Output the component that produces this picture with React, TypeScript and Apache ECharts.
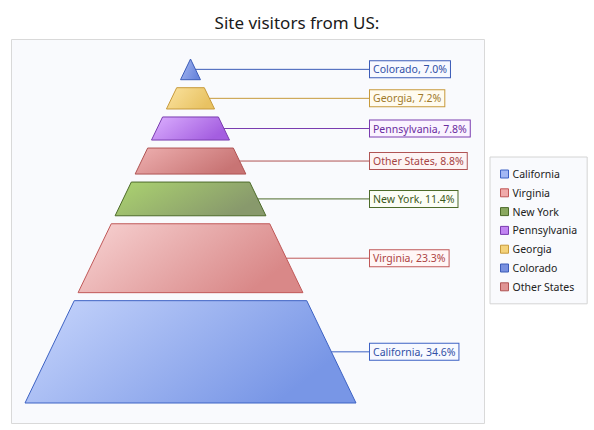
import { useEffect, useRef } from 'react';
import * as echarts from 'echarts';

// 数据
const states = ['California', 'Virginia', 'New York', 'Pennsylvania', 'Georgia', 'Colorado', 'Other States'];
const shares = [34.6, 23.3, 11.4, 7.8, 7.2, 7.0, 8.8];

// 每个州的配色：渐变浅色、渐变深色、边框、文字、标签背景、图例填充
const palette: Record<string, { light: string; dark: string; border: string; text: string; bg: string; icon: string }> = {
  'California': { light: '#c8d6fc', dark: '#7896e6', border: '#3d62c4', text: '#3150a6', bg: '#f7f9ff', icon: '#a3b8f4' },
  'Virginia': { light: '#f8d4d4', dark: '#d98888', border: '#c05858', text: '#ad4444', bg: '#fff6f6', icon: '#f0aaaa' },
  'New York': { light: '#acd470', dark: '#88996c', border: '#4d6b2a', text: '#3b5820', bg: '#fbfdf6', icon: '#8aa860' },
  'Pennsylvania': { light: '#dcb0ff', dark: '#a45ee0', border: '#7a3cb0', text: '#6a2ca0', bg: '#faf3ff', icon: '#c184f2' },
  'Georgia': { light: '#fbe3a0', dark: '#e8c262', border: '#c79a3c', text: '#a07a2a', bg: '#fffbef', icon: '#f4d27a' },
  'Colorado': { light: '#a8baf2', dark: '#6a86dc', border: '#3c5cb8', text: '#3150a6', bg: '#f7f9ff', icon: '#7890e0' },
  'Other States': { light: '#eeb0b0', dark: '#c87474', border: '#b05454', text: '#a64444', bg: '#fdf4f4', icon: '#e09494' },
};

const FONT = '"Noto Sans", "Open Sans", sans-serif';
const GAP = 2.7; // 段间距（数值单位）

export default function App() {
  const chartRef = useRef<HTMLDivElement>(null);

  useEffect(() => {
    if (!chartRef.current) return;
    const chart = echarts.init(chartRef.current, undefined, { renderer: 'svg' });

    // 从上到下按数值升序排列
    const order = states.map((_, i) => i).sort((a, b) => shares[a] - shares[b]);
    const total = shares.reduce((s, v) => s + v, 0);
    const depth = total + GAP * (order.length - 1);

    let cum = 0;
    const spans: Record<string, [number, number]> = {};
    order.forEach((idx, k) => {
      const start = cum + k * GAP;
      spans[states[idx]] = [start, start + shares[idx]];
      cum += shares[idx];
    });

    const series: any[] = states.map((name, i) => {
      const c = palette[name];
      return {
        name,
        type: 'custom',
        z: 3,
        itemStyle: { color: c.icon, borderColor: c.border },
        data: [[spans[name][0], spans[name][1], shares[i]]],
        renderItem: (_params: any, api: any) => {
          const start = api.value(0);
          const end = api.value(1);
          const val = api.value(2);
          const p1 = api.coord([-start / depth, start]);
          const p2 = api.coord([start / depth, start]);
          const p3 = api.coord([end / depth, end]);
          const p4 = api.coord([-end / depth, end]);
          const mid = (start + end) / 2;
          const pm = api.coord([mid / depth, mid]);
          const labelX = api.coord([1, 0])[0] + 14;
          return {
            type: 'group',
            children: [
              {
                type: 'polygon',
                shape: { points: [p1, p2, p3, p4] },
                style: {
                  fill: new echarts.graphic.LinearGradient(0, 0, 1, 0.4, [
                    { offset: 0, color: c.light },
                    { offset: 1, color: c.dark },
                  ]),
                  stroke: c.border,
                  lineWidth: 1,
                },
              },
              {
                type: 'line',
                shape: { x1: pm[0], y1: pm[1], x2: labelX, y2: pm[1] },
                style: { stroke: c.border, lineWidth: 1 },
              },
              {
                type: 'text',
                x: labelX,
                y: pm[1],
                style: {
                  text: `${name}, ${val.toFixed(1)}%`,
                  fill: c.text,
                  font: `10.5px ${FONT}`,
                  lineHeight: 12,
                  align: 'left',
                  verticalAlign: 'middle',
                  backgroundColor: c.bg,
                  borderColor: c.border,
                  borderWidth: 1,
                  padding: [2, 3, 2, 3],
                },
              },
            ],
          };
        },
      };
    });

    chart.setOption({
      animation: false,
      backgroundColor: '#ffffff',
      title: {
        text: 'Site visitors from US:',
        left: 'center',
        top: 9,
        textStyle: { fontFamily: FONT, fontSize: 17, fontWeight: 'normal', color: '#1a1a1a' },
      },
      graphic: [
        {
          type: 'rect',
          z: 0,
          shape: { x: 11.5, y: 39.5, width: 473, height: 384 },
          style: { fill: '#f9fafd', stroke: '#d9d9d9', lineWidth: 1 },
        },
      ],
      legend: {
        orient: 'vertical',
        left: 490,
        top: 157,
        padding: [10, 10, 10, 10],
        itemGap: 4.8,
        itemWidth: 8,
        itemHeight: 8,
        icon: 'rect',
        backgroundColor: '#f9fafd',
        borderColor: '#d4d4d4',
        borderWidth: 1,
        textStyle: { fontFamily: FONT, fontSize: 10.5, lineHeight: 14, color: '#222', padding: [0, 0, 0, -1] },
        data: states.map((name) => ({
          name,
          itemStyle: { color: palette[name].icon, borderColor: palette[name].border, borderWidth: 1 },
        })),
      },
      grid: { left: 25, top: 59, width: 331, height: 344 },
      xAxis: { type: 'value', min: -1, max: 1, show: false },
      yAxis: { type: 'value', min: 0, max: depth, inverse: true, show: false },
      series,
    });

    return () => {
      chart.dispose();
    };
  }, []);

  return (
    <div
      ref={chartRef}
      style={{ position: 'fixed', left: 0, top: 0, width: 594, height: 430 }}
    />
  );
}
